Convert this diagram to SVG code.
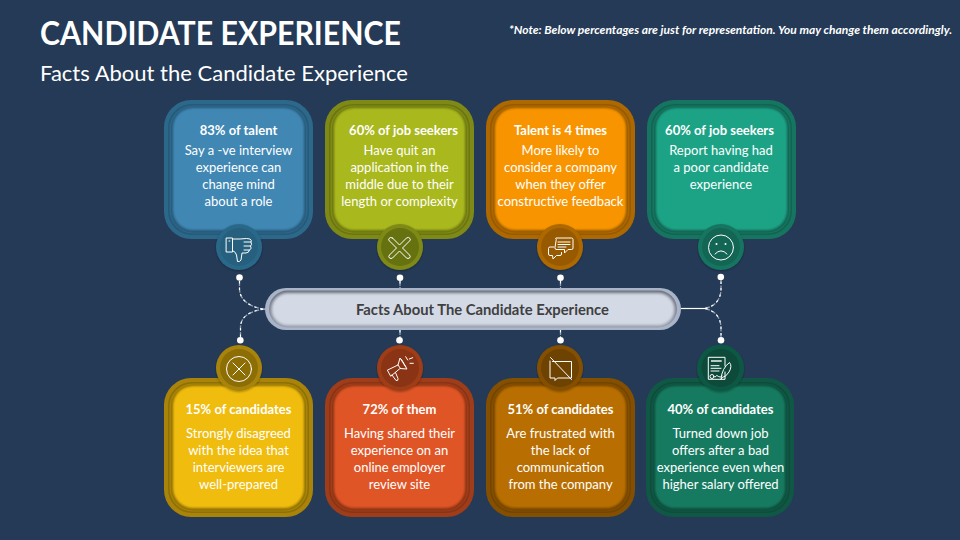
<svg xmlns="http://www.w3.org/2000/svg" width="960" height="540" viewBox="0 0 960 540">
<style>
text{font-family:Lato,"Liberation Sans",sans-serif;fill:#fff;text-anchor:middle}
.h{font-weight:700;font-size:13px}
.b{font-size:13px}
.i{fill:none;stroke:#fff;stroke-width:1;stroke-linejoin:round;stroke-linecap:round}
.c0{fill:none;stroke:#93a0b6;stroke-width:1.300;stroke-dasharray:5 1.500}
.c{fill:none;stroke:#fff;stroke-width:1.100;stroke-dasharray:2.500 4}
.dot{fill:#fff}
.blue .o{fill:#2b6889}.blue .d{fill:#27597a}.blue .f{fill:#3f87b4}.blue .n{fill:#27607f}
.olive .o{fill:#7f8a16}.olive .d{fill:#6c7611}.olive .f{fill:#a9b81f}.olive .n{fill:#66710f}
.orange .o{fill:#ad6800}.orange .d{fill:#985a00}.orange .f{fill:#f79400}.orange .n{fill:#985a00}
.teal .o{fill:#167560}.teal .d{fill:#126452}.teal .f{fill:#1fa386}.teal .n{fill:#136654}
.yellow .o{fill:#a98408}.yellow .d{fill:#8f7006}.yellow .f{fill:#f0bc0c}.yellow .n{fill:#8c6e04}
.red .o{fill:#9f3c19}.red .d{fill:#8a3415}.red .f{fill:#e05525}.red .n{fill:#8a3415}
.brown .o{fill:#854f00}.brown .d{fill:#744500}.brown .f{fill:#b86e00}.brown .n{fill:#6e4200}
.green .o{fill:#105845}.green .d{fill:#0e4d3c}.green .f{fill:#177a60}.green .n{fill:#0d4a3a}
</style>
<defs>
<filter id="soft" x="-5%" y="-5%" width="110%" height="110%"><feGaussianBlur stdDeviation="0.9"/></filter>
<filter id="softer" x="-5%" y="-20%" width="110%" height="140%"><feGaussianBlur stdDeviation="1.500"/></filter>
<filter id="sh" x="-20%" y="-20%" width="140%" height="140%"><feDropShadow dx="0" dy="1" stdDeviation="1.200" flood-color="#000" flood-opacity="0.3"/></filter>
<linearGradient id="pe" x1="0" y1="0" x2="0" y2="1"><stop offset="0" stop-color="#666b78"/><stop offset="1" stop-color="#9096a3"/></linearGradient>
</defs>
<rect width="960" height="540" fill="#243a56"/>
<text x="40" y="45" style="text-anchor:start;font-weight:700;font-size:32px" textLength="361" lengthAdjust="spacingAndGlyphs">CANDIDATE EXPERIENCE</text>
<text x="40" y="81" style="text-anchor:start;font-size:21px" textLength="368" lengthAdjust="spacingAndGlyphs">Facts About the Candidate Experience</text>
<text x="509" y="34" style="text-anchor:start;font-weight:700;font-style:italic;font-size:10.400px" textLength="443" lengthAdjust="spacingAndGlyphs">*Note: Below percentages are just for representation. You may change them accordingly.</text>

<g id="connectors">
<path class="c0" d="M239.500 281V289Q240 305 265 309.500"/>
<path class="c0" d="M240.500 337V327Q241 312 265 309"/>
<path class="c0" d="M400 281V288"/>
<path class="c0" d="M400 330V337"/>
<path class="c0" d="M560.500 281V288"/>
<path class="c0" d="M560.500 330V337"/>
<path class="c0" d="M705 308.500Q720 305 721 290V280"/>
<path class="c0" d="M705 308.500Q720 312 721 327V337"/>
<path class="c" d="M239.500 281V289Q240 305 265 309.500"/>
<path class="c" d="M240.500 337V327Q241 312 265 309"/>
<path class="c" d="M400 281V288"/>
<path class="c" d="M400 330V337"/>
<path class="c" d="M560.500 281V288"/>
<path class="c" d="M560.500 330V337"/>
<path d="M681 308.500H706" fill="none" stroke="#fff" stroke-width="1.200"/>
<path class="c" d="M705 308.500Q720 305 721 290V280"/>
<path class="c" d="M705 308.500Q720 312 721 327V337"/>
<circle class="dot" cx="239.500" cy="277.500" r="3.300"/>
<circle class="dot" cx="400" cy="277.700" r="3.300"/>
<circle class="dot" cx="560.500" cy="277.700" r="3.300"/>
<circle class="dot" cx="720.800" cy="277" r="3.300"/>
<circle class="dot" cx="240.300" cy="340.300" r="3.300"/>
<circle class="dot" cx="399.500" cy="340.300" r="3.300"/>
<circle class="dot" cx="560.500" cy="340.300" r="3.300"/>
<circle class="dot" cx="721" cy="340.300" r="3.300"/>
</g>

<g id="center">
<rect x="265" y="288" width="416" height="42" rx="21" fill="#a9b4c9"/>
<rect x="269" y="290.500" width="408" height="37" rx="18.500" fill="url(#pe)"/>
<rect x="271.500" y="293" width="403" height="32.500" rx="16" fill="#d3dae6" filter="url(#softer)"/>
<text x="482.500" y="314.500" style="font-weight:700;font-size:14.600px;fill:#404040" textLength="253" lengthAdjust="spacingAndGlyphs">Facts About The Candidate Experience</text>
</g>

<g id="card1" class="blue">
<rect class="o" x="164" y="100" width="149" height="139" rx="27"/>
<rect class="d" x="168" y="104" width="141" height="131" rx="24"/>
<rect class="o" x="169.500" y="105.500" width="138" height="128" rx="23"/>
<rect class="d" x="171" y="106.500" width="135" height="126" rx="22"/>
<rect class="f" x="173" y="108" width="131" height="122" rx="20" filter="url(#soft)"/>
<text class="h" x="238.500" y="134.500">83% of talent</text>
<text class="b" x="238.500" y="155">Say a -ve interview</text>
<text class="b" x="238.500" y="172">experience can</text>
<text class="b" x="238.500" y="189">change mind</text>
<text class="b" x="238.500" y="206">about a role</text>
<circle class="o" cx="239" cy="247" r="23" filter="url(#sh)"/>
<circle class="n" cx="239" cy="247" r="19"/>
<path class="i" d="M226.500 238H232.500V252H226.500ZM232.500 239H240Q248 238 250 239Q252 240 251 242H244M251 242Q252.500 245 250.500 246H244M250.500 246Q252 249 249.500 250H244M249.500 250Q249 253 246 253H242L241 260Q240 262 237.500 261.500L236.500 255Q236 252 232.500 250.500M229 241h.8"/>
</g>

<g id="card2" class="olive">
<rect class="o" x="325" y="100" width="149" height="139" rx="27"/>
<rect class="d" x="329" y="104" width="141" height="131" rx="24"/>
<rect class="o" x="330.500" y="105.500" width="138" height="128" rx="23"/>
<rect class="d" x="332" y="106.500" width="135" height="126" rx="22"/>
<rect class="f" x="334" y="108" width="131" height="122" rx="20" filter="url(#soft)"/>
<text class="h" x="403.500" y="134.500">60% of job seekers</text>
<text class="b" x="399.500" y="155">Have quit an</text>
<text class="b" x="399.500" y="172">application in the</text>
<text class="b" x="399.500" y="189">middle due to their</text>
<text class="b" x="399.500" y="206">length or complexity</text>
<circle class="o" cx="400" cy="247" r="23" filter="url(#sh)"/>
<circle class="n" cx="400" cy="247" r="19"/>
<path class="i" d="M392.500 238L399.500 245L406.500 238Q408.500 236.500 410 238.500Q411 240 409.500 241L402.500 248L409.500 255Q411 256.500 409.500 258Q408 259 406.500 258L399.500 251L392.500 258Q391 259 389.500 258Q388 256.500 389.500 255L396.500 248L389.500 241Q388 240 389 238.500Q390.500 236.500 392.500 238Z"/>
</g>

<g id="card3" class="orange">
<rect class="o" x="486" y="100" width="149" height="139" rx="27"/>
<rect class="d" x="490" y="104" width="141" height="131" rx="24"/>
<rect class="o" x="491.500" y="105.500" width="138" height="128" rx="23"/>
<rect class="d" x="493" y="106.500" width="135" height="126" rx="22"/>
<rect class="f" x="495" y="108" width="131" height="122" rx="20" filter="url(#soft)"/>
<text class="h" x="560.500" y="134.500">Talent is 4 times</text>
<text class="b" x="560.500" y="155">More likely to</text>
<text class="b" x="560.500" y="172">consider a company</text>
<text class="b" x="560.500" y="189">when they offer</text>
<text class="b" x="560.500" y="206">constructive feedback</text>
<circle class="o" cx="560" cy="247" r="23" filter="url(#sh)"/>
<circle class="n" cx="560" cy="247" r="19"/>
<path class="i" d="M556 239Q555 238 556 238H571.500Q573 238 573 239.500V248Q573 249.500 571.500 249.500H568L564.500 253V249.500H556Q555 249.500 555 248ZM558 242H570M558 244.500H570M558 247H566"/>
<path class="i" d="M554 247H550Q548.500 247 548.500 248.500V254Q548.500 255.500 550 255.500H552.500L553 259L556.500 255.500H560Q561.500 255.500 561.500 254V252.500"/>
</g>

<g id="card4" class="teal">
<rect class="o" x="647" y="100" width="149" height="139" rx="27"/>
<rect class="d" x="651" y="104" width="141" height="131" rx="24"/>
<rect class="o" x="652.500" y="105.500" width="138" height="128" rx="23"/>
<rect class="d" x="654" y="106.500" width="135" height="126" rx="22"/>
<rect class="f" x="656" y="108" width="131" height="122" rx="20" filter="url(#soft)"/>
<text class="h" x="719.500" y="134.500">60% of job seekers</text>
<text class="b" x="721" y="155">Report having had</text>
<text class="b" x="721" y="172">a poor candidate</text>
<text class="b" x="721" y="189">experience</text>
<circle class="o" cx="721" cy="247" r="23" filter="url(#sh)"/>
<circle class="n" cx="721" cy="247" r="19"/>
<circle class="i" cx="721" cy="247.500" r="12.500"/>
<circle class="dot" cx="716.500" cy="244" r="1"/>
<circle class="dot" cx="725.500" cy="244" r="1"/>
<path class="i" d="M715 254Q721 247.500 727 254"/>
</g>

<g id="card5" class="yellow">
<rect class="o" x="164" y="378" width="149" height="139" rx="27"/>
<rect class="d" x="168" y="382" width="141" height="131" rx="24"/>
<rect class="o" x="169.500" y="383.500" width="138" height="128" rx="23"/>
<rect class="d" x="171" y="384.500" width="135" height="126" rx="22"/>
<rect class="f" x="173" y="386" width="131" height="122" rx="20" filter="url(#soft)"/>
<text class="h" x="238.500" y="414">15% of candidates</text>
<text class="b" x="238.500" y="438">Strongly disagreed</text>
<text class="b" x="238.500" y="455">with the idea that</text>
<text class="b" x="238.500" y="472">interviewers are</text>
<text class="b" x="238.500" y="489">well-prepared</text>
<circle class="o" cx="239" cy="368" r="23" filter="url(#sh)"/>
<circle class="n" cx="239" cy="368" r="19"/>
<circle class="i" cx="239" cy="369" r="12.500"/>
<path class="i" d="M233 363L245 375M245 363L233 375"/>
</g>

<g id="card6" class="red">
<rect class="o" x="325" y="378" width="149" height="139" rx="27"/>
<rect class="d" x="329" y="382" width="141" height="131" rx="24"/>
<rect class="o" x="330.500" y="383.500" width="138" height="128" rx="23"/>
<rect class="d" x="332" y="384.500" width="135" height="126" rx="22"/>
<rect class="f" x="334" y="386" width="131" height="122" rx="20" filter="url(#soft)"/>
<text class="h" x="399.500" y="414">72% of them</text>
<text class="b" x="399.500" y="438">Having shared their</text>
<text class="b" x="399.500" y="455">experience on an</text>
<text class="b" x="399.500" y="472">online employer</text>
<text class="b" x="399.500" y="489">review site</text>
<circle class="o" cx="400" cy="368" r="23" filter="url(#sh)"/>
<circle class="n" cx="400" cy="368" r="19"/>
<path class="i" d="M387.700 370L398 365L400 358L407 369L400 368.500L391 376Z M398 365L400.500 368.500M401.500 359.500L406 367M392 375L396 380.500Q398.500 381 398 378.500L395.500 372.500M405.700 356.700L407.700 360M409.300 359L412.700 357.700M410 363.300H413.300"/>
</g>

<g id="card7" class="brown">
<rect class="o" x="486" y="378" width="149" height="139" rx="27"/>
<rect class="d" x="490" y="382" width="141" height="131" rx="24"/>
<rect class="o" x="491.500" y="383.500" width="138" height="128" rx="23"/>
<rect class="d" x="493" y="384.500" width="135" height="126" rx="22"/>
<rect class="f" x="495" y="386" width="131" height="122" rx="20" filter="url(#soft)"/>
<text class="h" x="560.500" y="414">51% of candidates</text>
<text class="b" x="560.500" y="438">Are frustrated with</text>
<text class="b" x="560.500" y="455">the lack of</text>
<text class="b" x="560.500" y="472">communication</text>
<text class="b" x="560.500" y="489">from the company</text>
<circle class="o" cx="560" cy="368" r="23" filter="url(#sh)"/>
<circle class="n" cx="560" cy="368" r="19"/>
<path class="i" d="M550 361V378H555V380.500L557.500 378H571.500V361.500H552.500M550.500 357.500L571.500 379.500" stroke-width="1.200"/>
</g>

<g id="card8" class="green">
<rect class="o" x="646" y="378" width="148" height="139" rx="27"/>
<rect class="d" x="650" y="382" width="140" height="131" rx="24"/>
<rect class="o" x="651.500" y="383.500" width="137" height="128" rx="23"/>
<rect class="d" x="653" y="384.500" width="134" height="126" rx="22"/>
<rect class="f" x="655" y="386" width="130" height="122" rx="20" filter="url(#soft)"/>
<text class="h" x="720.500" y="414">40% of candidates</text>
<text class="b" x="720.500" y="438">Turned down job</text>
<text class="b" x="720.500" y="455">offers after a bad</text>
<text class="b" x="720.500" y="472">experience even when</text>
<text class="b" x="720.500" y="489">higher salary offered</text>
<circle class="o" cx="720.500" cy="368" r="23.500" filter="url(#sh)"/>
<circle class="n" cx="720.500" cy="368" r="19"/>
<path class="i" d="M725 372V379.300H708.300V357.300H725V366" stroke="#dde4e2"/>
<path d="M711 361H721.700" stroke="#b9c6c2" stroke-width="2" fill="none"/>
<path class="i" d="M711 365.700H719M711 368.300H721M711 371H719"/>
<circle class="i" cx="712" cy="376.500" r="2"/>
<path class="i" d="M715 377Q717 374 718.500 376.500Q720 378 722 376M721 379Q722 368 729.500 362.500Q732.500 366 729 372Q726 377 722.500 377.500Z"/>
</g>
</svg>
